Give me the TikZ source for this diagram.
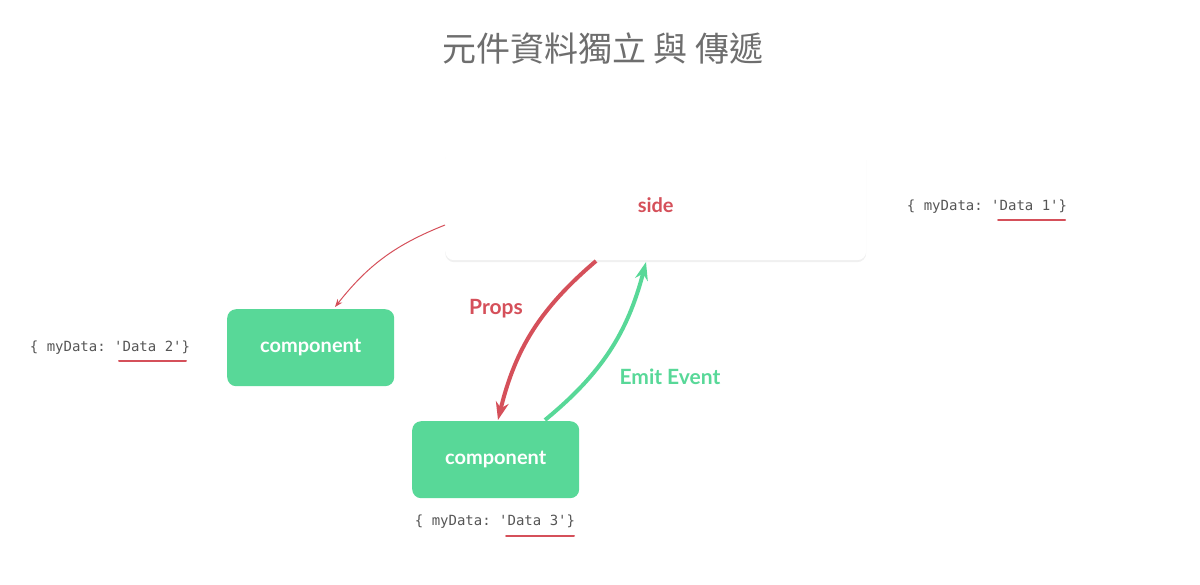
\documentclass[tikz,border=0pt]{standalone}
\usepackage{fontspec}
\setmainfont{Lato}
\setmonofont{DejaVu Sans Mono}
\newfontfamily\cjk{Noto Sans CJK TC}[Scale=1]
\usetikzlibrary{shadows,arrows.meta}
\definecolor{vred}{HTML}{D5505A}
\definecolor{vgreen}{HTML}{58D898}
\definecolor{tgray}{HTML}{555555}
\begin{document}
\begin{tikzpicture}[x=1pt,y=-1pt,
  box/.style={rounded corners=9pt,inner sep=0pt,anchor=north west},
  comptext/.style={text=white,font=\bfseries\fontsize{20}{24}\selectfont},
  code/.style={font=\ttfamily\fontsize{14}{16}\selectfont,text=tgray},
  uline/.style={vred,line width=2pt,line cap=round}]
\useasboundingbox (0,0) rectangle (1200,584);
\node (title) at (603,48) {\cjk\fontsize{34}{40}\selectfont\color{tgray!85}元件資料獨立 與 傳遞};
\node[box,fill=white,drop shadow={opacity=0.12,shadow xshift=0pt,shadow yshift=-2pt},minimum width=421pt,minimum height=110pt] (side) at (445,150) {};
\node[text=vred,font=\bfseries\fontsize{20}{24}\selectfont] (sidet) at (side.center) {side};
\node[box,fill=vgreen,minimum width=167pt,minimum height=77pt] (c2) at (227,309) {};
\node[comptext] at (c2.center) {component};
\node[box,fill=vgreen,minimum width=167pt,minimum height=77pt] (c3) at (412,421) {};
\node[comptext] at (c3.center) {component};
\node[code] (d1) at (987,207) {\{ myData: 'Data 1'\}};
\node[code] (d2) at (110,348) {\{ myData: 'Data 2'\}};
\node[code] (d3) at (495,522) {\{ myData: 'Data 3'\}};
\coordinate (u1a) at (998,220); \coordinate (u1b) at (1065,220);
\coordinate (u2a) at (119,361); \coordinate (u2b) at (186,361);
\coordinate (u3a) at (506,536); \coordinate (u3b) at (574,536);
\draw[uline] (u1a) -- (u1b);
\draw[uline] (u2a) -- (u2b);
\draw[uline] (u3a) -- (u3b);
\coordinate (a1s) at (445,225); \coordinate (a1e) at (335,307);
\draw[vred,line width=1pt,-{Stealth[length=8pt,width=6pt]}] (a1s) to[bend right=15] (a1e);
\coordinate (a2s) at (596,261); \coordinate (a2e) at (498,420);
\draw[vred,line width=4pt,-{Stealth[length=18pt,width=13pt]}] (a2s) to[bend right=18] (a2e);
\coordinate (a3s) at (545,420); \coordinate (a3e) at (646,262);
\draw[vgreen,line width=4pt,-{Stealth[length=18pt,width=13pt]}] (a3s) to[bend right=18] (a3e);
\node[text=vred,font=\bfseries\fontsize{21}{24}\selectfont] (props) at (496,309) {Props};
\node[text=vgreen,font=\bfseries\fontsize{21}{24}\selectfont] (emit) at (670,377) {Emit Event};
\end{tikzpicture}
\end{document}
